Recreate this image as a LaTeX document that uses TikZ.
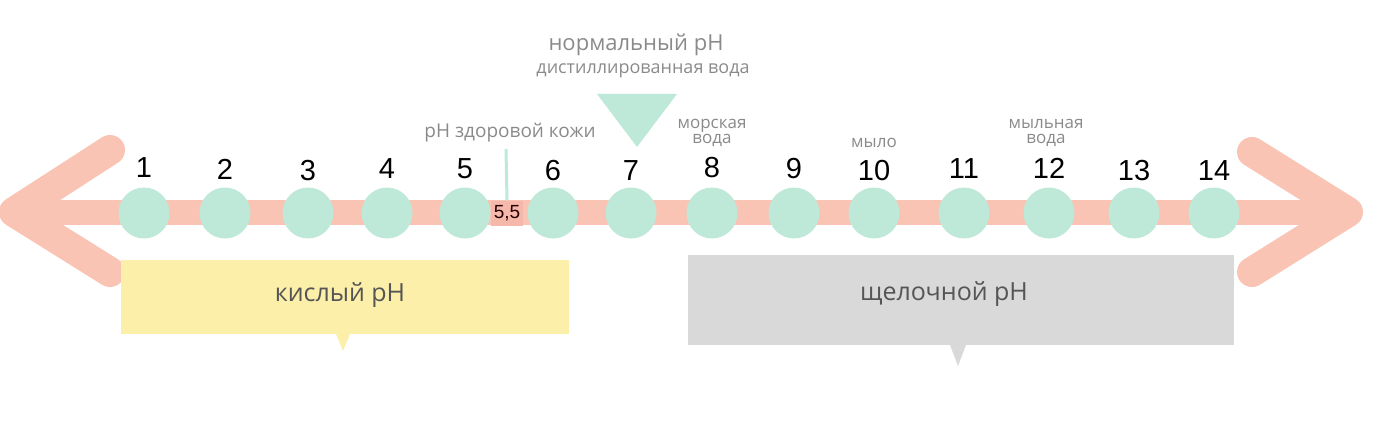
\documentclass[tikz,border=0pt]{standalone}
\usepackage{fontspec}
\setmainfont{Liberation Sans}
\newfontfamily\thinfont{Open Sans}
\usetikzlibrary{calc}
\definecolor{salmon}{HTML}{F9C4B4}
\definecolor{mark}{HTML}{F5B8AA}
\definecolor{teal}{HTML}{BEE8D8}
\definecolor{ylw}{HTML}{FCEFA9}
\definecolor{gry}{HTML}{D9D9D9}
\definecolor{lbl}{HTML}{8A8A8A}
\definecolor{boxtxt}{HTML}{555555}
\begin{document}
\begin{tikzpicture}[x=1pt,y=-1pt,
  dot/.style={circle,fill=teal,minimum size=51pt,inner sep=0pt},
  num/.style={font=\fontsize{29}{29}\selectfont,text=black,inner sep=0pt},
  note/.style={font=\thinfont\fontsize{17}{15}\selectfont,text=lbl,inner sep=0pt,align=center},
  box/.style={inner sep=0pt,font=\thinfont\fontsize{25}{25}\selectfont,text=boxtxt}]
\useasboundingbox (0,0) rectangle (1400,425);
% axis with arrow heads
\draw[salmon,line width=25pt] (20,212) -- (1345,212);
\draw[salmon,line width=30pt,line cap=round,line join=round] (110,150) -- (14,212) -- (110,272);
\draw[salmon,line width=30pt,line cap=round,line join=round] (1252,152) -- (1348,212) -- (1252,272);
% dots and numbers
\foreach \i/\x/\ny in {1/144/168,2/225/169,3/308/171,4/387/169,5/465/169,6/553/171,7/631/171,8/712/168,9/794/169,10/874/171,11/964/169,12/1049/168,13/1134/171,14/1214/171}{
  \node[dot] (c\i) at (\x,213) {};
  \node[num] (n\i) at (\x,\ny) {\i};
}
% 5,5 mark
\node[fill=mark,text=black!85!red,inner sep=0pt,minimum width=32pt,minimum height=25pt,font=\fontsize{19}{19}\selectfont] (h55) at (507,213) {5,5};
\coordinate (skintop) at (506,149);
\draw[teal,line width=3pt] (skintop) -- (h55.north);
\node[note,font=\thinfont\fontsize{19}{19}\selectfont] (skin) at (510,133) {pH здоровой кожи};
% normal pH triangle
\fill[teal] (597,94) -- (677,94) -- (637,147) -- cycle;
\node[note,font=\thinfont\fontsize{22}{22}\selectfont] (norm) at (636,45) {нормальный pH};
\node[note,font=\thinfont\fontsize{18}{18}\selectfont] (dist) at (643,71) {дистиллированная вода};
\node[note,font=\thinfont\fontsize{17}{15}\selectfont] (sea) at (712,133) {морская\\вода};
\node[note] (soap) at (874,143) {мыло};
\node[note,font=\thinfont\fontsize{17}{15}\selectfont] (soapw) at (1046,133) {мыльная\\вода};
% boxes
\fill[ylw] (121,260) rectangle (569,334);
\fill[ylw] (336,334) -- (350,334) -- (343,351) -- cycle;
\node[box] (acid) at (340,295) {кислый pH};
\fill[gry] (688,255) rectangle (1234,345);
\fill[gry] (950,345) -- (966,345) -- (958,366) -- cycle;
\node[box] (alk) at (944,294) {щелочной pH};
\end{tikzpicture}
\end{document}
